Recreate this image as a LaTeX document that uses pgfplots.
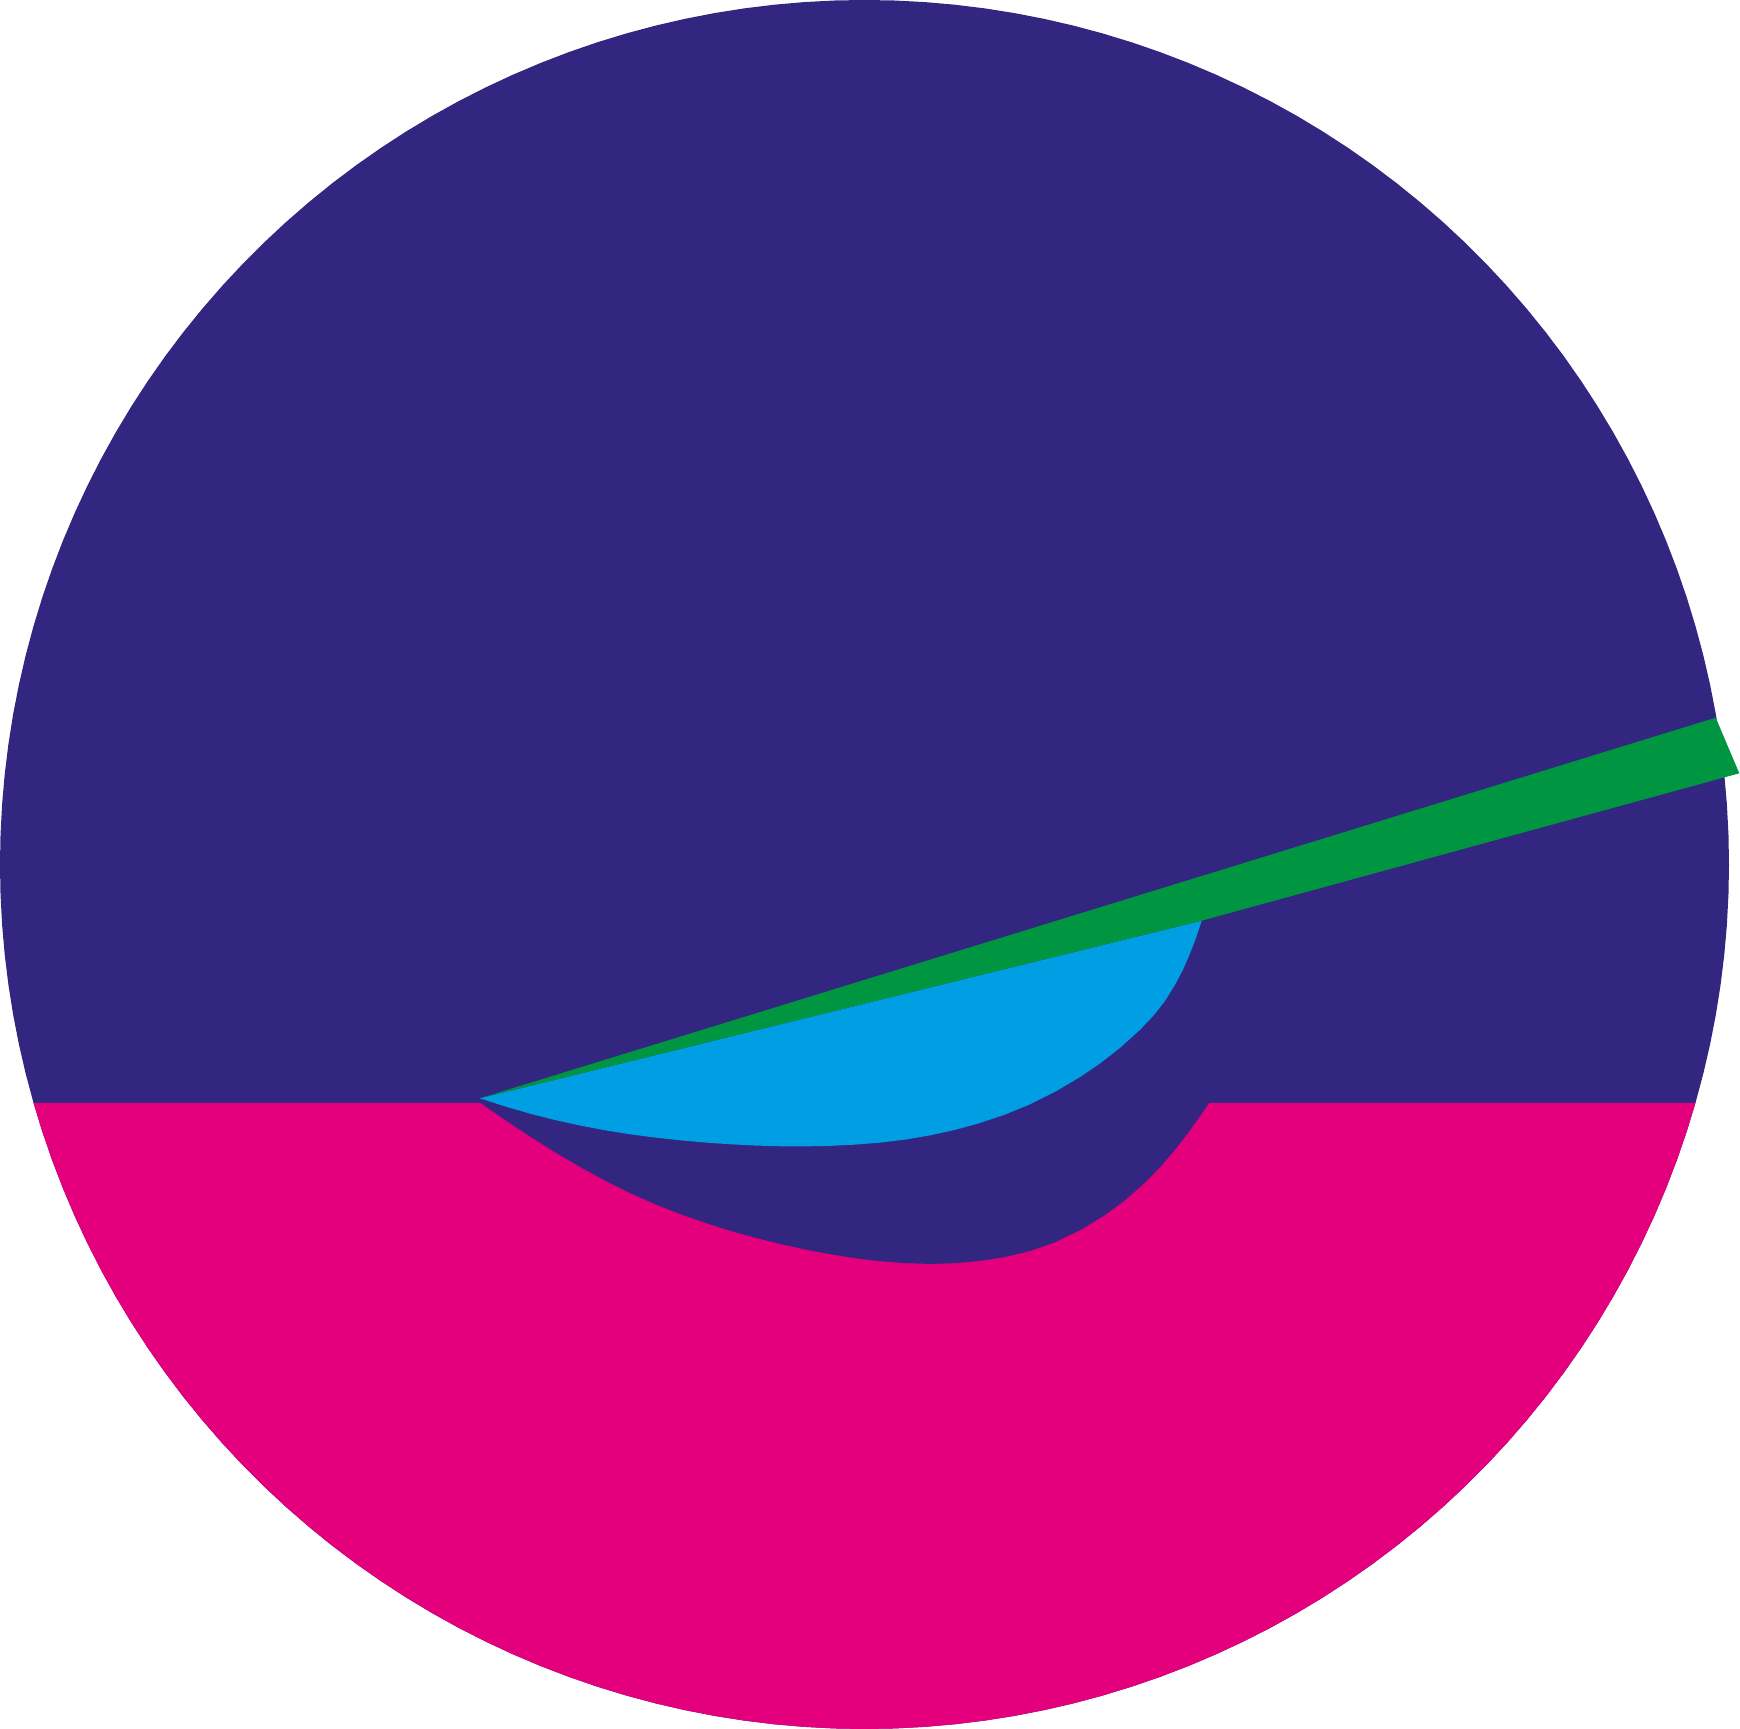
\documentclass[border=0pt]{standalone}
\usepackage{pgfplots}
\pgfplotsset{compat=1.18}
\definecolor{logopurple}{RGB}{50,38,128}
\definecolor{logomagenta}{RGB}{228,0,124}
\definecolor{logoblue}{RGB}{0,159,227}
\definecolor{logogreen}{RGB}{0,149,64}
\begin{document}
\begin{tikzpicture}
\begin{axis}[
    width=17.4cm, height=17.29cm,
    scale only axis,
    xmin=0, xmax=1740,
    ymin=0, ymax=1729,
    hide axis,
]
% frame for the bounding box
\addplot[draw=none] coordinates {(0,0) (1740,1729)};

% disc, every 2 degrees
\addplot[draw=none, fill=logopurple] coordinates {
    (1729.00,864.50) (1728.47,894.67) (1726.89,924.80) (1724.26,954.86) (1720.59,984.81)
    (1715.87,1014.62) (1710.11,1044.24) (1703.32,1073.64) (1695.51,1102.79) (1686.69,1131.65)
    (1676.86,1160.18) (1666.05,1188.35) (1654.26,1216.12) (1641.51,1243.47) (1627.81,1270.36)
    (1613.18,1296.75) (1597.64,1322.61) (1581.20,1347.92) (1563.90,1372.64) (1545.74,1396.74)
    (1526.74,1420.19) (1506.95,1442.96) (1486.37,1465.03) (1465.03,1486.37) (1442.96,1506.95)
    (1420.19,1526.74) (1396.74,1545.74) (1372.64,1563.90) (1347.92,1581.20) (1322.61,1597.64)
    (1296.75,1613.18) (1270.36,1627.81) (1243.47,1641.51) (1216.12,1654.26) (1188.35,1666.05)
    (1160.18,1676.86) (1131.65,1686.69) (1102.79,1695.51) (1073.64,1703.32) (1044.24,1710.11)
    (1014.62,1715.87) (984.81,1720.59) (954.86,1724.26) (924.80,1726.89) (894.67,1728.47)
    (864.50,1729.00) (834.33,1728.47) (804.20,1726.89) (774.14,1724.26) (744.19,1720.59)
    (714.38,1715.87) (684.76,1710.11) (655.36,1703.32) (626.21,1695.51) (597.35,1686.69)
    (568.82,1676.86) (540.65,1666.05) (512.88,1654.26) (485.53,1641.51) (458.64,1627.81)
    (432.25,1613.18) (406.39,1597.64) (381.08,1581.20) (356.36,1563.90) (332.26,1545.74)
    (308.81,1526.74) (286.04,1506.95) (263.97,1486.37) (242.63,1465.03) (222.05,1442.96)
    (202.26,1420.19) (183.26,1396.74) (165.10,1372.64) (147.80,1347.92) (131.36,1322.61)
    (115.82,1296.75) (101.19,1270.36) (87.49,1243.47) (74.74,1216.12) (62.95,1188.35)
    (52.14,1160.18) (42.31,1131.65) (33.49,1102.79) (25.68,1073.64) (18.89,1044.24)
    (13.13,1014.62) (8.41,984.81) (4.74,954.86) (2.11,924.80) (0.53,894.67)
    (0.00,864.50) (0.53,834.33) (2.11,804.20) (4.74,774.14) (8.41,744.19)
    (13.13,714.38) (18.89,684.76) (25.68,655.36) (33.49,626.21) (42.31,597.35)
    (52.14,568.82) (62.95,540.65) (74.74,512.88) (87.49,485.53) (101.19,458.64)
    (115.82,432.25) (131.36,406.39) (147.80,381.08) (165.10,356.36) (183.26,332.26)
    (202.26,308.81) (222.05,286.04) (242.63,263.97) (263.97,242.63) (286.04,222.05)
    (308.81,202.26) (332.26,183.26) (356.36,165.10) (381.08,147.80) (406.39,131.36)
    (432.25,115.82) (458.64,101.19) (485.53,87.49) (512.88,74.74) (540.65,62.95)
    (568.82,52.14) (597.35,42.31) (626.21,33.49) (655.36,25.68) (684.76,18.89)
    (714.38,13.13) (744.19,8.41) (774.14,4.74) (804.20,2.11) (834.33,0.53)
    (864.50,0.00) (894.67,0.53) (924.80,2.11) (954.86,4.74) (984.81,8.41)
    (1014.62,13.13) (1044.24,18.89) (1073.64,25.68) (1102.79,33.49) (1131.65,42.31)
    (1160.18,52.14) (1188.35,62.95) (1216.12,74.74) (1243.47,87.49) (1270.36,101.19)
    (1296.75,115.82) (1322.61,131.36) (1347.92,147.80) (1372.64,165.10) (1396.74,183.26)
    (1420.19,202.26) (1442.96,222.05) (1465.03,242.63) (1486.37,263.97) (1506.95,286.04)
    (1526.74,308.81) (1545.74,332.26) (1563.90,356.36) (1581.20,381.08) (1597.64,406.39)
    (1613.18,432.25) (1627.81,458.64) (1641.51,485.53) (1654.26,512.88) (1666.05,540.65)
    (1676.86,568.82) (1686.69,597.35) (1695.51,626.21) (1703.32,655.36) (1710.11,684.76)
    (1715.87,714.38) (1720.59,744.19) (1724.26,774.14) (1726.89,804.20) (1728.47,834.33)
};

% lower segment, below the line at 626.2
\addplot[draw=none, fill=logomagenta] coordinates {
    (33.49,626.21) (42.31,597.35)
    (52.14,568.82) (62.95,540.65) (74.74,512.88) (87.49,485.53) (101.19,458.64)
    (115.82,432.25) (131.36,406.39) (147.80,381.08) (165.10,356.36) (183.26,332.26)
    (202.26,308.81) (222.05,286.04) (242.63,263.97) (263.97,242.63) (286.04,222.05)
    (308.81,202.26) (332.26,183.26) (356.36,165.10) (381.08,147.80) (406.39,131.36)
    (432.25,115.82) (458.64,101.19) (485.53,87.49) (512.88,74.74) (540.65,62.95)
    (568.82,52.14) (597.35,42.31) (626.21,33.49) (655.36,25.68) (684.76,18.89)
    (714.38,13.13) (744.19,8.41) (774.14,4.74) (804.20,2.11) (834.33,0.53)
    (864.50,0.00) (894.67,0.53) (924.80,2.11) (954.86,4.74) (984.81,8.41)
    (1014.62,13.13) (1044.24,18.89) (1073.64,25.68) (1102.79,33.49) (1131.65,42.31)
    (1160.18,52.14) (1188.35,62.95) (1216.12,74.74) (1243.47,87.49) (1270.36,101.19)
    (1296.75,115.82) (1322.61,131.36) (1347.92,147.80) (1372.64,165.10) (1396.74,183.26)
    (1420.19,202.26) (1442.96,222.05) (1465.03,242.63) (1486.37,263.97) (1506.95,286.04)
    (1526.74,308.81) (1545.74,332.26) (1563.90,356.36) (1581.20,381.08) (1597.64,406.39)
    (1613.18,432.25) (1627.81,458.64) (1641.51,485.53) (1654.26,512.88) (1666.05,540.65)
    (1676.86,568.82) (1686.69,597.35) (1695.51,626.21)
};

% bowl
\addplot[draw=none, fill=logopurple] coordinates {
    (474,630.5) (480,626.3) (505,609.05) (530,592.55) (555,576.8) (580,562.05)
    (605,548.45) (630,535.95) (655,524.85) (680,514.95) (705,506.2)
    (730,498.3) (755,491.3) (780,485.05) (805,479.55) (830,474.8)
    (855,470.8) (880,467.8) (905,465.8) (930,465.05) (955,465.8)
    (980,468.05) (1005,471.95) (1030,477.95) (1055,486.7) (1080,498.7)
    (1105,513.95) (1125,528.75) (1145,546.35) (1160,561.65) (1175,579.2)
    (1188,596) (1199,611.3) (1208.3,624.9) (1213,632)
};

% blue leaf
\addplot[draw=none, fill=logoblue] coordinates {
    (480,630.7) (505,622.6) (530,615.35) (555,608.95) (580,603.45)
    (605,598.7) (630,594.7) (655,591.45) (680,588.7) (705,586.45)
    (730,584.7) (755,583.45) (780,582.7) (805,582.6) (830,583.1)
    (855,584.35) (880,586.35) (905,589.35) (930,593.6) (955,599.1)
    (980,606) (1005,614.4) (1030,624.65) (1055,637.15) (1080,651.9)
    (1100,665.5) (1120,681.1) (1140,699.1) (1155,715.1) (1165,728.1)
    (1175,744.1) (1183,759.3) (1190,775.4) (1196,791) (1201.7,808.3)
};

% green band
\addplot[draw=none, fill=logogreen] coordinates {
    (480,630.7) (1715.7,1011.3) (1739.3,955.7) (1201.7,808.3)
};
\end{axis}
\end{tikzpicture}
\end{document}
